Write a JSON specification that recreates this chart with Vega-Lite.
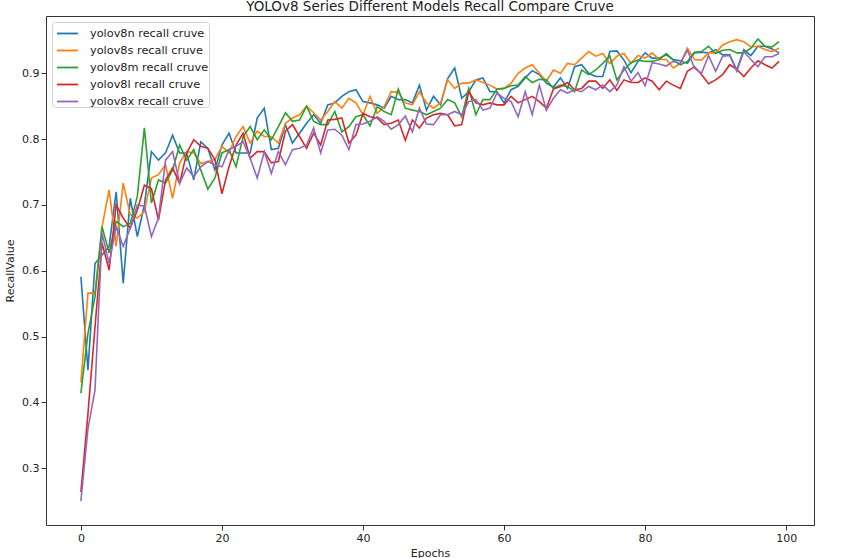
{
  "$schema": "https://vega.github.io/schema/vega-lite/v6.json",
  "width": 768,
  "height": 509,
  "autosize": {"type": "none"},
  "padding": {"left": 46, "top": 16, "right": 50, "bottom": 33},
  "background": "white",
  "title": {"text": "YOLOv8 Series Different Models Recall Compare Cruve", "fontSize": 13.5, "fontWeight": "normal", "font": "DejaVu Sans", "color": "#222", "anchor": "middle", "frame": "group", "offset": 3},
  "datasets": {
    "wide": [
      {"epoch":0,"n":0.591,"s":0.430,"m":0.414,"l":0.264,"x":0.250},
      {"epoch":1,"n":0.449,"s":0.566,"m":0.505,"l":0.383,"x":0.360},
      {"epoch":2,"n":0.611,"s":0.566,"m":0.561,"l":0.515,"x":0.419},
      {"epoch":3,"n":0.624,"s":0.667,"m":0.667,"l":0.642,"x":0.657},
      {"epoch":4,"n":0.637,"s":0.723,"m":0.627,"l":0.601,"x":0.611},
      {"epoch":5,"n":0.720,"s":0.637,"m":0.675,"l":0.700,"x":0.667},
      {"epoch":6,"n":0.581,"s":0.733,"m":0.667,"l":0.680,"x":0.637},
      {"epoch":7,"n":0.710,"s":0.685,"m":0.672,"l":0.665,"x":0.665},
      {"epoch":8,"n":0.652,"s":0.680,"m":0.713,"l":0.692,"x":0.700},
      {"epoch":9,"n":0.700,"s":0.690,"m":0.817,"l":0.730,"x":0.698},
      {"epoch":10,"n":0.781,"s":0.741,"m":0.703,"l":0.725,"x":0.652},
      {"epoch":11,"n":0.768,"s":0.746,"m":0.738,"l":0.677,"x":0.680},
      {"epoch":12,"n":0.779,"s":0.761,"m":0.733,"l":0.738,"x":0.768},
      {"epoch":13,"n":0.806,"s":0.710,"m":0.753,"l":0.756,"x":0.781},
      {"epoch":14,"n":0.779,"s":0.764,"m":0.791,"l":0.733,"x":0.733},
      {"epoch":15,"n":0.779,"s":0.781,"m":0.768,"l":0.779,"x":0.756},
      {"epoch":16,"n":0.738,"s":0.779,"m":0.784,"l":0.799,"x":0.743},
      {"epoch":17,"n":0.796,"s":0.763,"m":0.753,"l":0.789,"x":0.758},
      {"epoch":18,"n":0.786,"s":0.766,"m":0.724,"l":0.786,"x":0.766},
      {"epoch":19,"n":0.753,"s":0.769,"m":0.741,"l":0.769,"x":0.761},
      {"epoch":20,"n":0.791,"s":0.789,"m":0.779,"l":0.717,"x":0.758},
      {"epoch":21,"n":0.809,"s":0.779,"m":0.784,"l":0.758,"x":0.784},
      {"epoch":22,"n":0.779,"s":0.804,"m":0.758,"l":0.791,"x":0.789},
      {"epoch":23,"n":0.779,"s":0.819,"m":0.804,"l":0.809,"x":0.796},
      {"epoch":24,"n":0.779,"s":0.794,"m":0.819,"l":0.771,"x":0.771},
      {"epoch":25,"n":0.832,"s":0.812,"m":0.799,"l":0.781,"x":0.741},
      {"epoch":26,"n":0.847,"s":0.804,"m":0.814,"l":0.781,"x":0.781},
      {"epoch":27,"n":0.784,"s":0.804,"m":0.799,"l":0.764,"x":0.748},
      {"epoch":28,"n":0.786,"s":0.794,"m":0.819,"l":0.766,"x":0.781},
      {"epoch":29,"n":0.822,"s":0.824,"m":0.840,"l":0.812,"x":0.761},
      {"epoch":30,"n":0.794,"s":0.832,"m":0.827,"l":0.822,"x":0.784},
      {"epoch":31,"n":0.809,"s":0.837,"m":0.829,"l":0.804,"x":0.786},
      {"epoch":32,"n":0.824,"s":0.850,"m":0.850,"l":0.786,"x":0.791},
      {"epoch":33,"n":0.837,"s":0.840,"m":0.827,"l":0.809,"x":0.817},
      {"epoch":34,"n":0.824,"s":0.829,"m":0.822,"l":0.791,"x":0.779},
      {"epoch":35,"n":0.852,"s":0.842,"m":0.822,"l":0.829,"x":0.814},
      {"epoch":36,"n":0.855,"s":0.857,"m":0.842,"l":0.830,"x":0.815},
      {"epoch":37,"n":0.865,"s":0.847,"m":0.811,"l":0.832,"x":0.806},
      {"epoch":38,"n":0.872,"s":0.862,"m":0.819,"l":0.794,"x":0.784},
      {"epoch":39,"n":0.875,"s":0.855,"m":0.834,"l":0.806,"x":0.822},
      {"epoch":40,"n":0.857,"s":0.837,"m":0.837,"l":0.839,"x":0.823},
      {"epoch":41,"n":0.855,"s":0.865,"m":0.820,"l":0.834,"x":0.827},
      {"epoch":42,"n":0.852,"s":0.839,"m":0.849,"l":0.832,"x":0.834},
      {"epoch":43,"n":0.847,"s":0.849,"m":0.842,"l":0.822,"x":0.827},
      {"epoch":44,"n":0.865,"s":0.872,"m":0.837,"l":0.824,"x":0.815},
      {"epoch":45,"n":0.860,"s":0.871,"m":0.876,"l":0.829,"x":0.822},
      {"epoch":46,"n":0.860,"s":0.855,"m":0.847,"l":0.798,"x":0.835},
      {"epoch":47,"n":0.855,"s":0.852,"m":0.844,"l":0.829,"x":0.811},
      {"epoch":48,"n":0.882,"s":0.872,"m":0.842,"l":0.817,"x":0.847},
      {"epoch":49,"n":0.844,"s":0.855,"m":0.837,"l":0.832,"x":0.823},
      {"epoch":50,"n":0.865,"s":0.847,"m":0.842,"l":0.837,"x":0.822},
      {"epoch":51,"n":0.852,"s":0.855,"m":0.847,"l":0.839,"x":0.837},
      {"epoch":52,"n":0.892,"s":0.890,"m":0.860,"l":0.837,"x":0.837},
      {"epoch":53,"n":0.908,"s":0.877,"m":0.855,"l":0.820,"x":0.842},
      {"epoch":54,"n":0.862,"s":0.885,"m":0.834,"l":0.822,"x":0.837},
      {"epoch":55,"n":0.872,"s":0.885,"m":0.877,"l":0.872,"x":0.857},
      {"epoch":56,"n":0.890,"s":0.890,"m":0.837,"l":0.855,"x":0.860},
      {"epoch":57,"n":0.893,"s":0.886,"m":0.860,"l":0.852,"x":0.844},
      {"epoch":58,"n":0.872,"s":0.882,"m":0.860,"l":0.855,"x":0.847},
      {"epoch":59,"n":0.872,"s":0.876,"m":0.876,"l":0.852,"x":0.870},
      {"epoch":60,"n":0.855,"s":0.877,"m":0.877,"l":0.852,"x":0.862},
      {"epoch":61,"n":0.875,"s":0.885,"m":0.881,"l":0.865,"x":0.857},
      {"epoch":62,"n":0.880,"s":0.900,"m":0.882,"l":0.855,"x":0.834},
      {"epoch":63,"n":0.893,"s":0.908,"m":0.895,"l":0.860,"x":0.872},
      {"epoch":64,"n":0.904,"s":0.913,"m":0.886,"l":0.865,"x":0.837},
      {"epoch":65,"n":0.898,"s":0.900,"m":0.891,"l":0.857,"x":0.882},
      {"epoch":66,"n":0.885,"s":0.888,"m":0.890,"l":0.847,"x":0.844},
      {"epoch":67,"n":0.879,"s":0.905,"m":0.877,"l":0.876,"x":0.862},
      {"epoch":68,"n":0.893,"s":0.900,"m":0.882,"l":0.880,"x":0.875},
      {"epoch":69,"n":0.877,"s":0.915,"m":0.880,"l":0.886,"x":0.870},
      {"epoch":70,"n":0.910,"s":0.913,"m":0.872,"l":0.875,"x":0.875},
      {"epoch":71,"n":0.913,"s":0.923,"m":0.905,"l":0.877,"x":0.872},
      {"epoch":72,"n":0.900,"s":0.933,"m":0.898,"l":0.888,"x":0.880},
      {"epoch":73,"n":0.895,"s":0.926,"m":0.905,"l":0.888,"x":0.875},
      {"epoch":74,"n":0.895,"s":0.930,"m":0.915,"l":0.877,"x":0.882},
      {"epoch":75,"n":0.933,"s":0.915,"m":0.926,"l":0.890,"x":0.872},
      {"epoch":76,"n":0.934,"s":0.926,"m":0.890,"l":0.874,"x":0.882},
      {"epoch":77,"n":0.920,"s":0.930,"m":0.905,"l":0.890,"x":0.910},
      {"epoch":78,"n":0.901,"s":0.915,"m":0.916,"l":0.886,"x":0.888},
      {"epoch":79,"n":0.918,"s":0.927,"m":0.920,"l":0.886,"x":0.901},
      {"epoch":80,"n":0.931,"s":0.923,"m":0.918,"l":0.893,"x":0.881},
      {"epoch":81,"n":0.923,"s":0.931,"m":0.918,"l":0.888,"x":0.916},
      {"epoch":82,"n":0.923,"s":0.921,"m":0.921,"l":0.875,"x":0.914},
      {"epoch":83,"n":0.928,"s":0.921,"m":0.930,"l":0.888,"x":0.911},
      {"epoch":84,"n":0.921,"s":0.908,"m":0.920,"l":0.882,"x":0.918},
      {"epoch":85,"n":0.919,"s":0.915,"m":0.913,"l":0.877,"x":0.915},
      {"epoch":86,"n":0.915,"s":0.938,"m":0.918,"l":0.903,"x":0.935},
      {"epoch":87,"n":0.931,"s":0.921,"m":0.932,"l":0.910,"x":0.908},
      {"epoch":88,"n":0.932,"s":0.920,"m":0.933,"l":0.898,"x":0.900},
      {"epoch":89,"n":0.931,"s":0.931,"m":0.941,"l":0.884,"x":0.927},
      {"epoch":90,"n":0.936,"s":0.931,"m":0.930,"l":0.890,"x":0.903},
      {"epoch":91,"n":0.928,"s":0.943,"m":0.935,"l":0.898,"x":0.926},
      {"epoch":92,"n":0.928,"s":0.948,"m":0.936,"l":0.913,"x":0.927},
      {"epoch":93,"n":0.905,"s":0.951,"m":0.931,"l":0.906,"x":0.903},
      {"epoch":94,"n":0.936,"s":0.948,"m":0.931,"l":0.895,"x":0.933},
      {"epoch":95,"n":0.927,"s":0.940,"m":0.938,"l":0.908,"x":0.921},
      {"epoch":96,"n":0.941,"s":0.941,"m":0.952,"l":0.919,"x":0.910},
      {"epoch":97,"n":0.941,"s":0.936,"m":0.941,"l":0.913,"x":0.925},
      {"epoch":98,"n":0.937,"s":0.933,"m":0.940,"l":0.908,"x":0.925},
      {"epoch":99,"n":0.931,"s":0.938,"m":0.948,"l":0.918,"x":0.930}
    ]
  },
  "data": {"name": "wide"},
  "transform": [
    {"fold": ["n", "s", "m", "l", "x"], "as": ["model", "recall"]}
  ],
  "mark": {"type": "line", "strokeWidth": 1.6, "clip": true},
  "encoding": {
    "x": {
      "field": "epoch", "type": "quantitative", "title": "Epochs",
      "scale": {"domain": [-4.95, 103.95], "nice": false, "zero": false},
      "axis": {"values": [0, 20, 40, 60, 80, 100], "format": "d", "titlePadding": 4}
    },
    "y": {
      "field": "recall", "type": "quantitative", "title": "RecallValue",
      "scale": {"domain": [0.2138, 0.987], "nice": false, "zero": false},
      "axis": {"values": [0.3, 0.4, 0.5, 0.6, 0.7, 0.8, 0.9], "format": ".1f", "titlePadding": 6}
    },
    "color": {
      "field": "model", "type": "nominal",
      "scale": {"domain": ["n", "s", "m", "l", "x"], "range": ["#1f77b4", "#ff7f0e", "#2ca02c", "#d62728", "#9467bd"]},
      "legend": {
        "title": null,
        "labelExpr": "'yolov8' + datum.value + ' recall cruve   '"
      }
    }
  },
  "config": {
    "font": "DejaVu Sans",
    "view": {"stroke": "#333", "strokeWidth": 1},
    "axis": {
      "grid": false, "domain": false, "ticks": true, "tickColor": "#333", "tickSize": 5, "tickWidth": 1,
      "labelColor": "#222", "labelFontSize": 11, "labelPadding": 2, "labelFont": "DejaVu Sans",
      "titleFontSize": 11, "titleFontWeight": "normal", "titleColor": "#222", "titleFont": "DejaVu Sans"
    },
    "legend": {
      "orient": "top-left", "offset": 6, "strokeColor": "#d0d0d0", "fillColor": "white", "cornerRadius": 3,
      "padding": 0, "symbolOffset": 4, "symbolType": "stroke", "symbolStrokeWidth": 1.8, "symbolSize": 441,
      "labelFontSize": 11.3, "labelColor": "#222", "labelFont": "DejaVu Sans", "rowPadding": -4, "labelOffset": 11, "labelLimit": 300
    }
  }
}
